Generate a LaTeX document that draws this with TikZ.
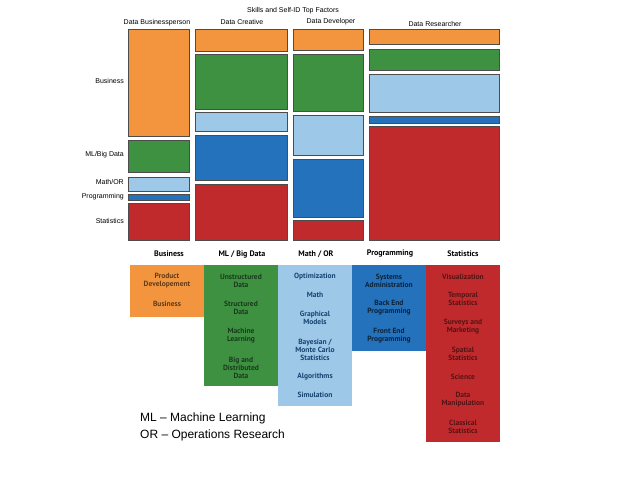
\documentclass[tikz,border=0pt]{standalone}
\usepackage{fontspec}
\setmainfont{Liberation Sans}
\newfontfamily\itemfont{PT Sans}
\definecolor{cor}{HTML}{F2953E}
\definecolor{cgr}{HTML}{3F9142}
\definecolor{clb}{HTML}{9EC8E8}
\definecolor{cbl}{HTML}{2572BC}
\definecolor{crd}{HTML}{C02A2D}
\begin{document}
\begin{tikzpicture}[x=1pt,y=-1pt,
  mos/.style={draw=black!70,line width=0.8pt},
  lab/.style={font=\fontsize{7}{8}\selectfont,inner sep=0},
  rlab/.style={lab,anchor=east},
  hdr/.style={font=\itemfont\bfseries\fontsize{8}{9}\selectfont,inner sep=0},
  itm/.style={font=\itemfont\bfseries\fontsize{7.5}{8}\selectfont,align=center,inner sep=0},
  leg/.style={font=\fontsize{12}{13}\selectfont,anchor=west,inner sep=0}]
\useasboundingbox (0,0) rectangle (638,479);
% mosaic
\foreach \xa/\xb/\ya/\yb/\c in {
 128/189/29/136/cor,128/189/140/172/cgr,128/189/177/191/clb,128/189/194/200/cbl,128/189/203/240/crd,
 195/287/29/51/cor,195/287/54/109/cgr,195/287/112/131/clb,195/287/135/180/cbl,195/287/184/240/crd,
 293/363/29/50/cor,293/363/54/111/cgr,293/363/115/155/clb,293/363/159/217/cbl,293/363/220/240/crd,
 369/499/29/44/cor,369/499/49/70/cgr,369/499/74/112/clb,369/499/116/123/cbl,369/499/126/240/crd}
  \filldraw[mos,fill=\c] (\xa,\ya) rectangle (\xb,\yb);
\node[lab] (title) at (293,11) {Skills and Self-ID Top Factors};
\node[lab] (c1) at (157,23) {Data Businessperson};
\node[lab] (c2) at (242,22) {Data Creative};
\node[lab] (c3) at (331,22) {Data Developer};
\node[lab] (c4) at (435,24) {Data Researcher};
\node[rlab] (r1) at (124,81) {Business};
\node[rlab] (r2) at (124,155) {ML/Big Data};
\node[rlab] (r3) at (124,182) {Math/OR};
\node[rlab] (r4) at (124,197) {Programming};
\node[rlab] (r5) at (124,221) {Statistics};
% bottom
\fill[cor] (130,265) rectangle (204,317);
\fill[cgr] (204,265) rectangle (278,386);
\fill[clb] (278,265) rectangle (352,406);
\fill[cbl] (352,265) rectangle (426,351);
\fill[crd] (426,265) rectangle (500,442);
\node[hdr] (h1) at (169,254) {Business};
\node[hdr] (h2) at (242,254) {ML / Big Data};
\node[hdr] (h3) at (316,254) {Math / OR};
\node[hdr] (h4) at (390,254) {Programming};
\node[hdr] (h5) at (463,254) {Statistics};
\begin{scope}[every node/.style={itm,text=cor!40!black}]
\node (o1) at (167,281) {Product\\Developement};
\node (o2) at (167,304) {Business};
\end{scope}
\begin{scope}[every node/.style={itm,text=cgr!40!black}]
\node (g1) at (241,281) {Unstructured\\Data};
\node (g2) at (241,308) {Structured\\Data};
\node (g3) at (241,336) {Machine\\Learning};
\node (g4) at (241,368) {Big and\\Distributed\\Data};
\end{scope}
\begin{scope}[every node/.style={itm,text=cbl!60!black}]
\node (l1) at (315,277) {Optimization};
\node (l2) at (315,295) {Math};
\node (l3) at (315,318) {Graphical\\Models};
\node (l4) at (315,350) {Bayesian /\\Monte Carlo\\Statistics};
\node (l5) at (315,377) {Algorithms};
\node (l6) at (315,395) {Simulation};
\end{scope}
\begin{scope}[every node/.style={itm,text=cbl!30!black}]
\node (b1) at (389,281) {Systems\\Administration};
\node (b2) at (389,308) {Back End\\Programming};
\node (b3) at (389,336) {Front End\\Programming};
\end{scope}
\begin{scope}[every node/.style={itm,text=crd!45!black}]
\node (s1) at (463,277) {Visualization};
\node (s2) at (463,299) {Temporal\\Statistics};
\node (s3) at (463,327) {Surveys and\\Marketing};
\node (s4) at (463,354) {Spatial\\Statistics};
\node (s5) at (463,377) {Science};
\node (s6) at (463,400) {Data\\Manipulation};
\node (s7) at (463,427) {Classical\\Statistics};
\end{scope}
\node[leg] (m1) at (140,418) {ML – Machine Learning};
\node[leg] (m2) at (140,435) {OR – Operations Research};
\end{tikzpicture}
\end{document}
